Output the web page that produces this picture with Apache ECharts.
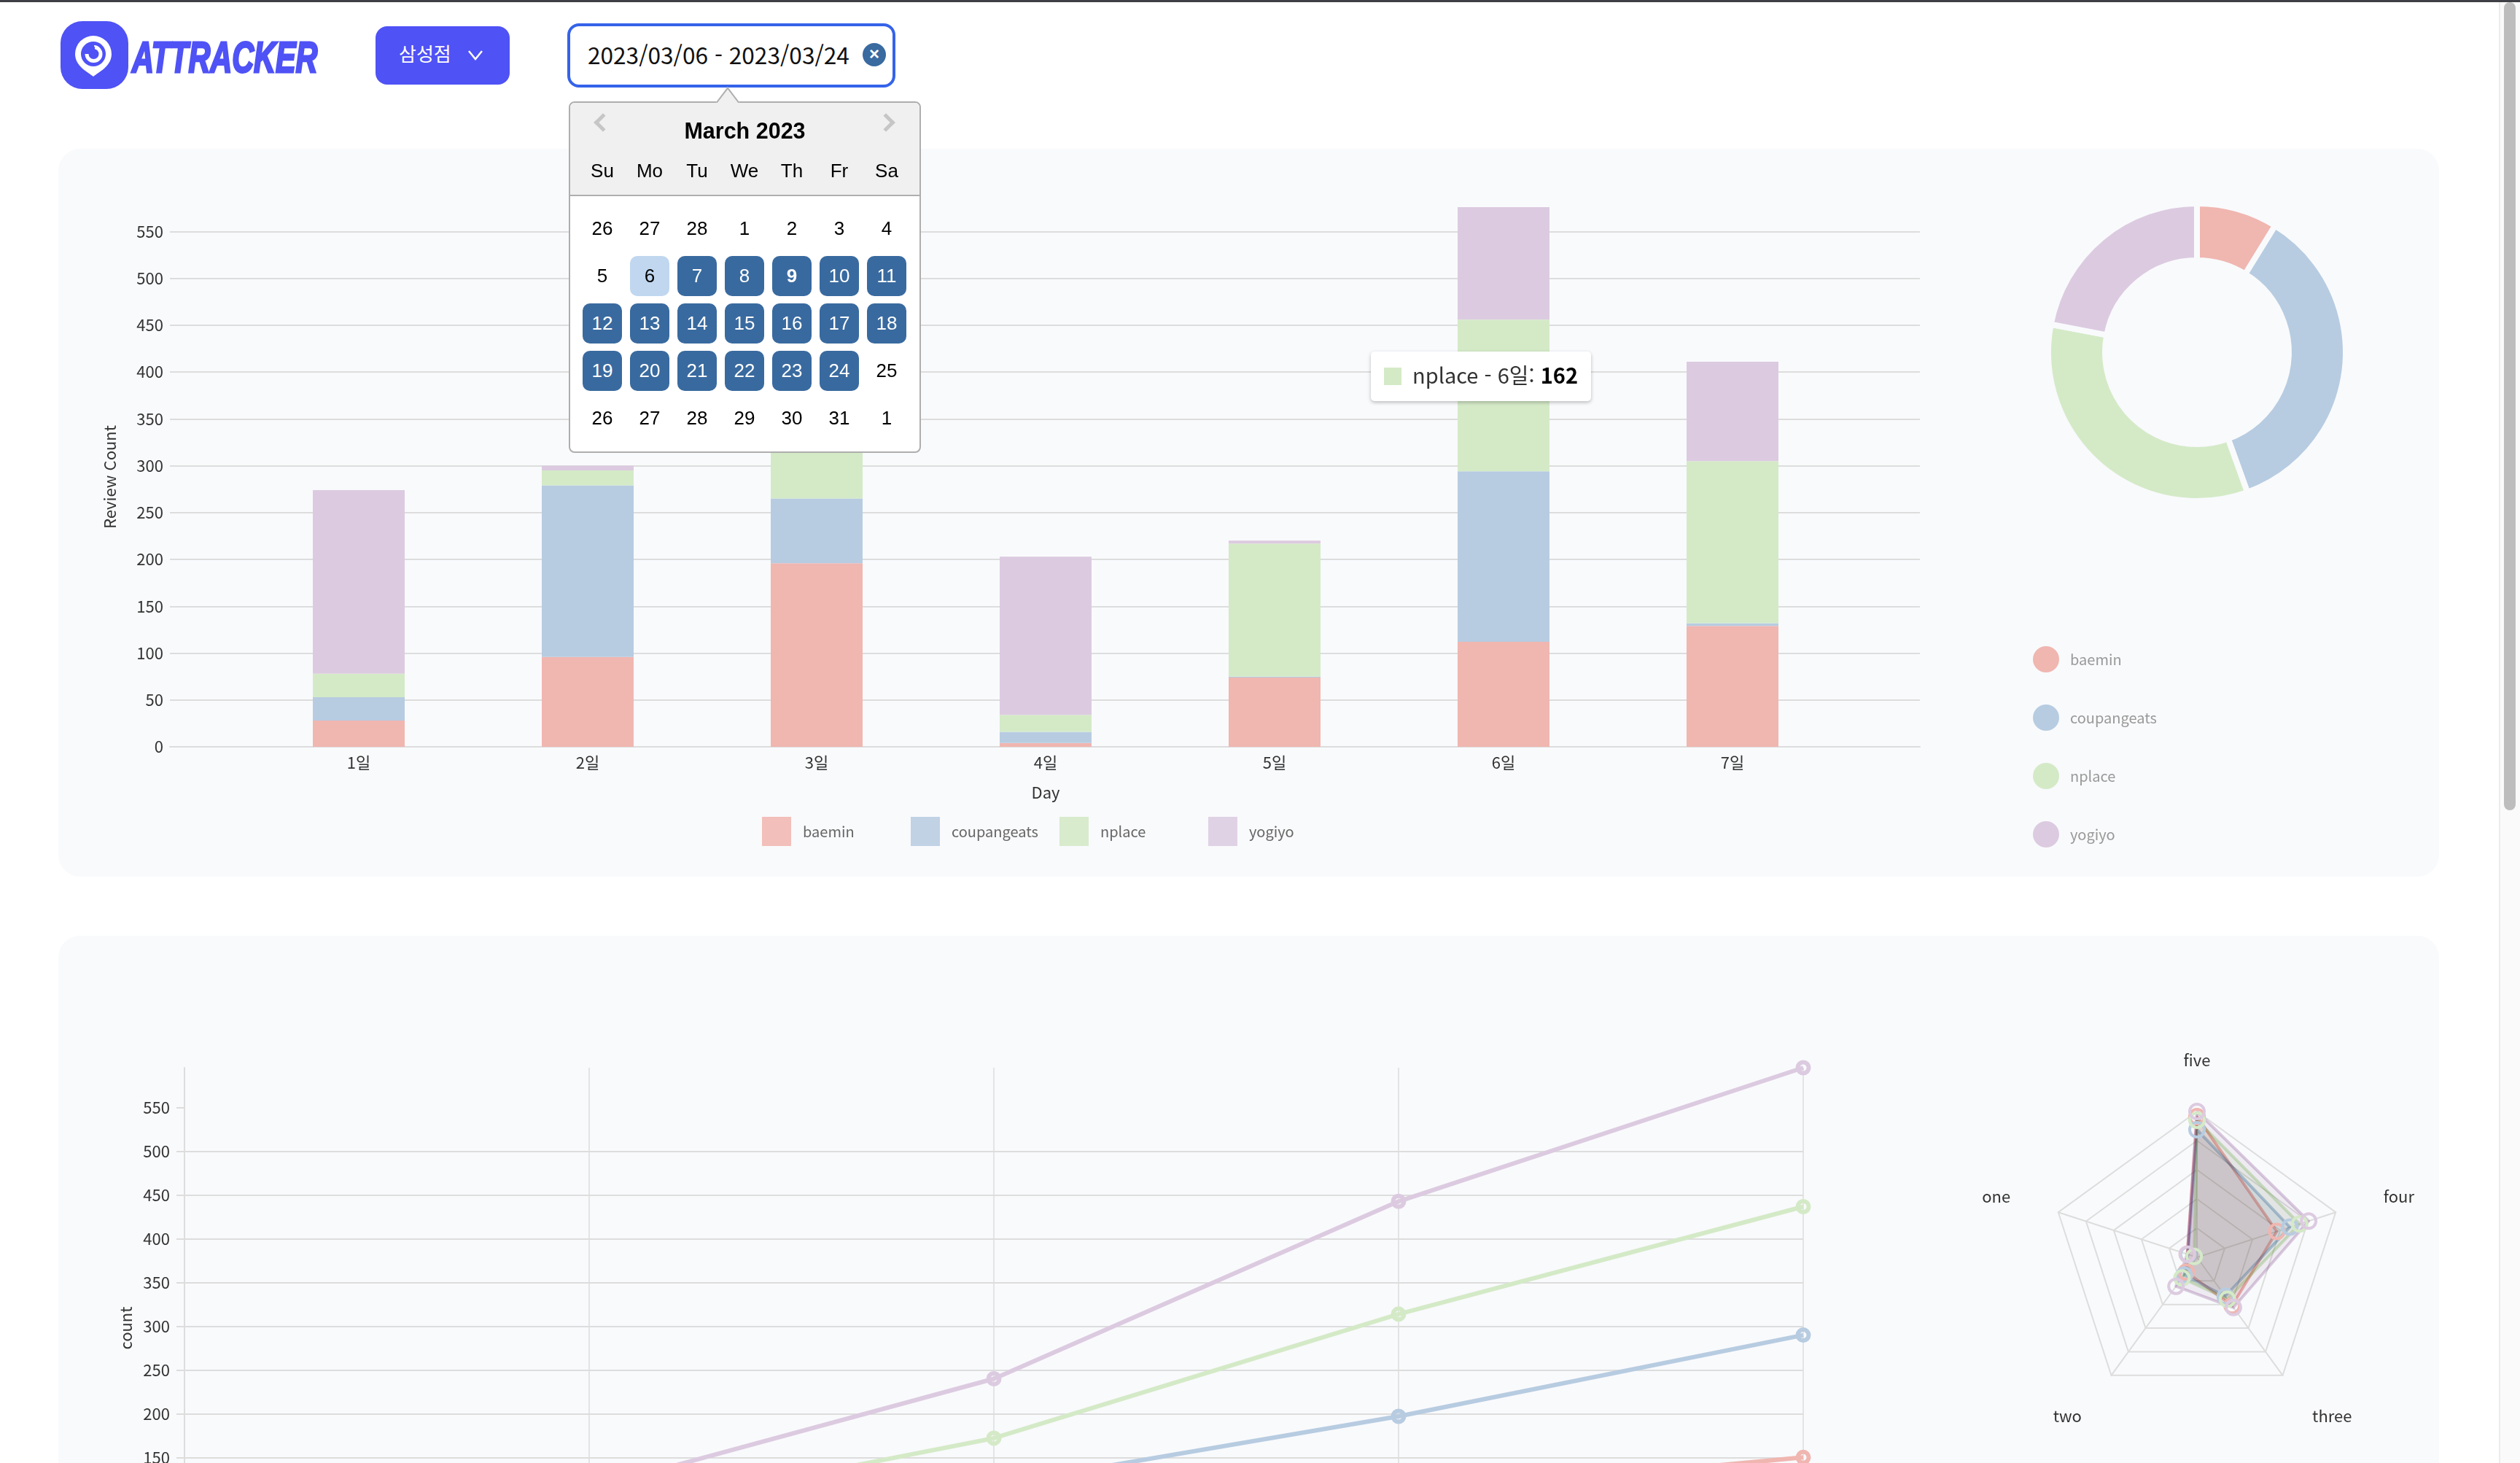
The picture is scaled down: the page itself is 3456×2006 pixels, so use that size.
<!DOCTYPE html>
<html lang="ko">
<head>
<meta charset="UTF-8">
<title>ATTRACKER</title>
<script src="https://cdn.jsdelivr.net/npm/echarts@6/dist/echarts.min.js"></script>
<style>
    html, body { margin: 0; width: 3456px; height: 2006px; overflow: hidden; background: #fff; font-family: "Noto Sans CJK KR", sans-serif; }
    .abs { position: absolute; }
    #topline { left: 0; top: 0; width: 3456px; height: 3px; background: #3e4045; }
    .card { background: #f9fafc; border-radius: 30px; left: 80px; width: 3265px; }
    #chart { left: 0; top: 0; width: 3456px; height: 2006px; }
    #brand { left: 181px; top: 44px; color: #4f52f5; font: italic bold 60px "Liberation Sans Narrow", sans-serif; -webkit-text-stroke: 3px #4f52f5; line-height: 70px; transform-origin: left center; transform: scaleX(0.69); white-space: nowrap; }
    #store { left: 515px; top: 36px; width: 184px; height: 80px; background: #4f52f5; border-radius: 16px; color: #fff; font-size: 26px; line-height: 74px; text-indent: 32px; }
    #range { left: 778px; top: 32px; width: 442px; height: 80px; border: 4px solid #3563e9; border-radius: 16px; background: #fff; font-size: 31.6px; line-height: 76px; color: #111; text-indent: 24px; white-space: nowrap; }
    #clear { left: 1183px; top: 59px; width: 32px; height: 32px; border-radius: 50%; background: #396aa0; color: #fff; font: bold 24px/30px "Liberation Sans", sans-serif; text-align: center; }
    #calendar { left: 780px; top: 139px; width: 479px; height: 478px; background: #fff; border: 2px solid #aeaeae; border-radius: 8px; font-family: "Liberation Sans", sans-serif; color: #000; }
    #calhead { left: 0; top: 0; width: 479px; height: 126px; background: #f0f0f0; border-bottom: 2px solid #aeaeae; border-radius: 6px 6px 0 0; }
    #caltip { left: 203px; top: -14px; width: 24px; height: 24px; background: #f0f0f0; border-left: 2px solid #aeaeae; border-top: 2px solid #aeaeae; transform: rotate(45deg) skew(8deg, 8deg); }
    #caltitle { left: 0; top: 20px; width: 479px; text-align: center; font-size: 30.5px; line-height: 36px; font-weight: bold; }
    .nav { top: 18px; width: 13px; height: 13px; border-top: 5px solid #c6c6c6; border-left: 5px solid #c6c6c6; }
    .dow, .day { width: 54px; height: 55px; line-height: 55px; text-align: center; font-size: 26px; border-radius: 10px; }
    .day.sel { background: #396a9f; color: #fff; }
    .day.start { background: #c0d7ef; }
    #scroll { left: 3427px; top: 3px; width: 29px; height: 2003px; background: #fafafa; border-left: 2px solid #ececec; box-sizing: border-box; }
    #thumb { left: 3434px; top: 3px; width: 16px; height: 1108px; background: #bdbdbd; border-radius: 8px; }
</style>
</head>
<body>
<div class="abs" id="topline"></div>
<div class="abs card" style="top:204px;height:998px"></div>
<div class="abs card" style="top:1283px;height:900px"></div>
<div class="abs" id="chart"></div>

<svg class="abs" style="left:83px;top:29px" width="93" height="93" viewBox="0 0 93 93">
    <rect width="93" height="93" rx="30" fill="#4f52f5"/>
    <path d="M45 76 C38 70 20 62 20 45 A25 25 0 1 1 70 45 C70 62 52 70 45 76 Z" fill="#fff"/>
    <circle cx="45" cy="45" r="17" fill="#4f52f5"/>
    <path d="M36 45 A9.5 9.5 0 1 0 46 35.500" fill="none" stroke="#fff" stroke-width="5"/>
    <path d="M45 45 L45 35" stroke="#4f52f5" stroke-width="4"/>
</svg>
<div class="abs" id="brand">ATTRACKER</div>

<div class="abs" id="store">삼성점
    <svg class="abs" style="left:125px;top:30px" width="24" height="20" viewBox="0 0 24 20"><path d="M3 4 L12 15 L21 4" fill="none" stroke="#fff" stroke-width="2.500"/></svg>
</div>
<div class="abs" id="range">2023/03/06 - 2023/03/24</div>
<div class="abs" id="clear">×</div>

<div class="abs" id="calendar">
    <div class="abs" id="caltip"></div>
    <div class="abs" id="calhead"></div>
    <div class="abs nav" style="left:36px;transform:rotate(-45deg)"></div>
    <div class="abs nav" style="left:424px;transform:rotate(135deg)"></div>
    <div class="abs" id="caltitle">March 2023</div>
    <div id="calcells"></div>
</div>

<div class="abs" id="scroll"></div>
<div class="abs" id="thumb"></div>

<script>
// 플랫폼
var platforms = ['baemin', 'coupangeats', 'nplace', 'yogiyo'];
var colors = ['#f0b6b0', '#b7cce1', '#d4eac7', '#dccbe0'];
var legendColors = ['#f2bfba', '#c1d2e5', '#d8ebcd', '#e0d2e5'];

// 일별 리뷰 (stacked bar)
var barDays = ['1일', '2일', '3일', '4일', '5일', '6일', '7일'];
var barBaemin = [28, 96, 196, 4, 74, 112, 129];
var barCoupang = [25, 183, 69, 12, 1, 182, 3];
var barNplace = [25, 16, 62, 18, 142, 162, 173];
var barYogiyo = [196, 5, 50, 169, 3, 120, 106];
var barTicks = [0, 50, 100, 150, 200, 250, 300, 350, 400, 450, 500, 550];

// 도넛
var pieValues = [88, 357, 335, 220];

// 누적 라인
var lineDays = ['1', '2', '3', '4', '5'];
var lineBaemin = [10, 30, 70, 107, 150];
var lineCoupang = [15, 65, 118, 197, 290];
var lineNplace = [20, 81, 172, 314, 437];
var lineYogiyo = [30, 114, 240, 443, 596];
var lineTicks = [0, 50, 100, 150, 200, 250, 300, 350, 400, 450, 500, 550];

// 별점 레이더
var radarAxes = ['five', 'one', 'two', 'three', 'four'];
var radarBaemin = [193, 14, 25, 82, 115];
var radarCoupang = [175, 13, 30, 66, 134];
var radarNplace = [188, 4, 35, 71, 148];
var radarYogiyo = [200, 14, 49, 85, 161];

// 달력
var calWeek = ['Su', 'Mo', 'Tu', 'We', 'Th', 'Fr', 'Sa'];
var calDays = [26, 27, 28, 1, 2, 3, 4, 5, 6, 7, 8, 9, 10, 11, 12, 13, 14, 15, 16, 17, 18, 19, 20, 21, 22, 23, 24, 25, 26, 27, 28, 29, 30, 31, 1];

var html = '';
calWeek.forEach(function (d, i) {
    html += '<div class="abs dow" style="left:' + (17 + i * 65) + 'px;top:66px">' + d + '</div>';
});
calDays.forEach(function (d, i) {
    var cls = 'day';
    if (i == 8) cls += ' start';
    if (i > 8 && i < 27) cls += ' sel';
    var bold = d == 9 ? 'font-weight:bold;' : '';
    html += '<div class="abs ' + cls + '" style="' + bold + 'left:' + (17 + (i % 7) * 65) + 'px;top:' + (145 + Math.floor(i / 7) * 65) + 'px">' + d + '</div>';
});
document.getElementById('calcells').innerHTML = html;

var barData = [barBaemin, barCoupang, barNplace, barYogiyo];
var lineData = [lineBaemin, lineCoupang, lineNplace, lineYogiyo];
var radarData = [radarBaemin, radarCoupang, radarNplace, radarYogiyo];
// multiply 느낌을 내기 위한 진한 색 + 낮은 alpha
var radarInk = ['206,19,0', '0,75,150', '58,158,0', '84,0,100'];
var radarFillAlpha = [0.093, 0.085, 0.066, 0.061];
var radarLineAlpha = [0.31, 0.28, 0.22, 0.2];

var axisColor = '#dddddd';
var series = [];

platforms.forEach(function (name, k) {
    series.push({
        type: 'bar', name: name, stack: 'day', barWidth: 126,
        xAxisIndex: 1, yAxisIndex: 1,
        itemStyle: { color: colors[k] },
        data: barData[k]
    });
});
series.push({
    type: 'pie', center: [3013, 483], radius: [126, 204], startAngle: 90,
    label: { show: false }, labelLine: { show: false },
    itemStyle: { borderColor: '#f9fafc', borderWidth: 8 },
    data: platforms.map(function (name, k) {
        return { name: name, value: pieValues[k], itemStyle: { color: colors[k] } };
    })
});
platforms.forEach(function (name, k) {
    series.push({
        type: 'line', name: name, xAxisIndex: 2, yAxisIndex: 2,
        symbol: 'circle', symbolSize: 15,
        lineStyle: { color: colors[k], width: 6 },
        itemStyle: { color: 'transparent', borderColor: colors[k], borderWidth: 6 },
        data: lineData[k]
    });
    series.push({
        type: 'radar', name: name, symbol: 'circle', symbolSize: 20,
        lineStyle: { color: 'rgba(' + radarInk[k] + ',' + radarLineAlpha[k] + ')', width: 4 },
        areaStyle: { color: 'rgba(' + radarInk[k] + ',' + radarFillAlpha[k] + ')', opacity: 1 },
        itemStyle: { color: 'transparent', borderColor: colors[k], borderWidth: 4 },
        data: [{ name: name, value: radarData[k] }]
    });
});

var legends = platforms.map(function (name, k) {
    return {
        left: 1045 + k * 204, top: 1120, padding: 0, itemWidth: 40, itemHeight: 40,
        icon: 'rect',
        textStyle: { fontSize: 20, color: '#666', padding: [0, 0, 2, 11] },
        data: [{ name: name, itemStyle: { color: legendColors[k] } }]
    };
});
legends.push({
    left: 2788, top: 886, padding: 0, orient: 'vertical', itemWidth: 36, itemHeight: 36, itemGap: 44,
    icon: 'circle',
    textStyle: { fontSize: 20, color: '#999', padding: [0, 0, 2, 10] },
    data: platforms.map(function (name, k) {
        return { name: name, itemStyle: { color: colors[k] } };
    })
});

var chart = echarts.init(document.getElementById('chart'));
chart.setOption({
    animation: false,
    textStyle: { fontFamily: '"Noto Sans CJK KR", sans-serif' },
    tooltip: {
        trigger: 'item', alwaysShowContent: true, position: [1880, 482],
        padding: 0, borderWidth: 0, backgroundColor: '#fff',
        extraCssText: 'border-radius:5px;box-shadow:0 2px 5px rgba(0,0,0,.25);',
        formatter: function (p) {
            return '<div style="width:302px;height:68px;position:relative;font-size:29px;line-height:68px;color:#333;white-space:nowrap">'
                + '<span style="position:absolute;left:18px;top:22px;width:24px;height:24px;background:' + colors[p.seriesIndex] + '"></span>'
                + '<span style="position:absolute;left:57px;top:-3px">' + p.seriesName + ' - ' + barDays[p.dataIndex] + ': <b style="color:#000">' + p.value + '</b></span></div>';
        }
    },
    legend: legends,
    grid: [
        { left: 233, top: 284, width: 2400, height: 740, outerBoundsMode: 'none' },
        { left: 335, top: 284, width: 2198, height: 740, outerBoundsMode: 'none' },
        { left: 253, top: 1464, width: 2220, height: 714, outerBoundsMode: 'none' }
    ],
    xAxis: [{
        // 가로 격자와 축선만 그리는 바깥쪽 grid
        gridIndex: 0, type: 'value', min: 0, max: 1,
        splitLine: { show: false }, axisTick: { show: false }, axisLabel: { show: false },
        axisLine: { show: true, lineStyle: { color: axisColor, width: 2 } }
    }, {
        gridIndex: 1, type: 'category', data: barDays,
        name: 'Day', nameLocation: 'middle', nameGap: 52,
        nameTextStyle: { fontSize: 22, color: '#333' },
        axisTick: { show: false }, axisLine: { show: false },
        axisLabel: { fontSize: 22, color: '#333', margin: 11 }
    }, {
        gridIndex: 2, type: 'category', data: lineDays, boundaryGap: false,
        axisLabel: { show: false },
        axisTick: { show: false },
        axisLine: { show: true, lineStyle: { color: axisColor, width: 2 } },
        splitLine: { show: true, lineStyle: { color: axisColor, width: 1.500 } }
    }],
    yAxis: [{
        gridIndex: 0, type: 'value', min: 0, max: 576, interval: 50,
        name: 'Review Count', nameLocation: 'middle', nameGap: 71,
        nameTextStyle: { fontSize: 22, color: '#333' },
        axisLine: { show: false }, axisTick: { show: false },
        axisLabel: { fontSize: 22, color: '#333', margin: 9, customValues: barTicks },
        splitLine: { show: true, showMaxLine: false, lineStyle: { color: axisColor, width: 2 } }
    }, {
        gridIndex: 1, type: 'value', min: 0, max: 576, show: false, splitLine: { show: false }
    }, {
        gridIndex: 2, type: 'value', min: 0, max: 596, interval: 50,
        name: 'count', nameLocation: 'middle', nameGap: 69,
        nameTextStyle: { fontSize: 22, color: '#333' },
        axisLine: { show: true, lineStyle: { color: axisColor, width: 2 } },
        axisTick: { show: true, length: 11, lineStyle: { color: axisColor, width: 2 }, customValues: lineTicks },
        axisLabel: { fontSize: 22, color: '#333', margin: 20, customValues: lineTicks },
        splitLine: { show: true, showMaxLine: false, lineStyle: { color: axisColor, width: 2 } }
    }],
    radar: {
        center: [3013, 1724], radius: 200, splitNumber: 5, shape: 'polygon',
        nameGap: 69,
        axisName: { fontSize: 22, color: '#333', lineHeight: 2 },
        splitArea: { show: false },
        splitLine: { lineStyle: { color: axisColor, width: 2 } },
        axisLine: { lineStyle: { color: axisColor, width: 2 } },
        indicator: radarAxes.map(function (a) { return { name: a, max: 200 }; })
    },
    series: series
});
chart.dispatchAction({ type: 'showTip', seriesIndex: 2, dataIndex: 5 });
</script>
</body>
</html>
